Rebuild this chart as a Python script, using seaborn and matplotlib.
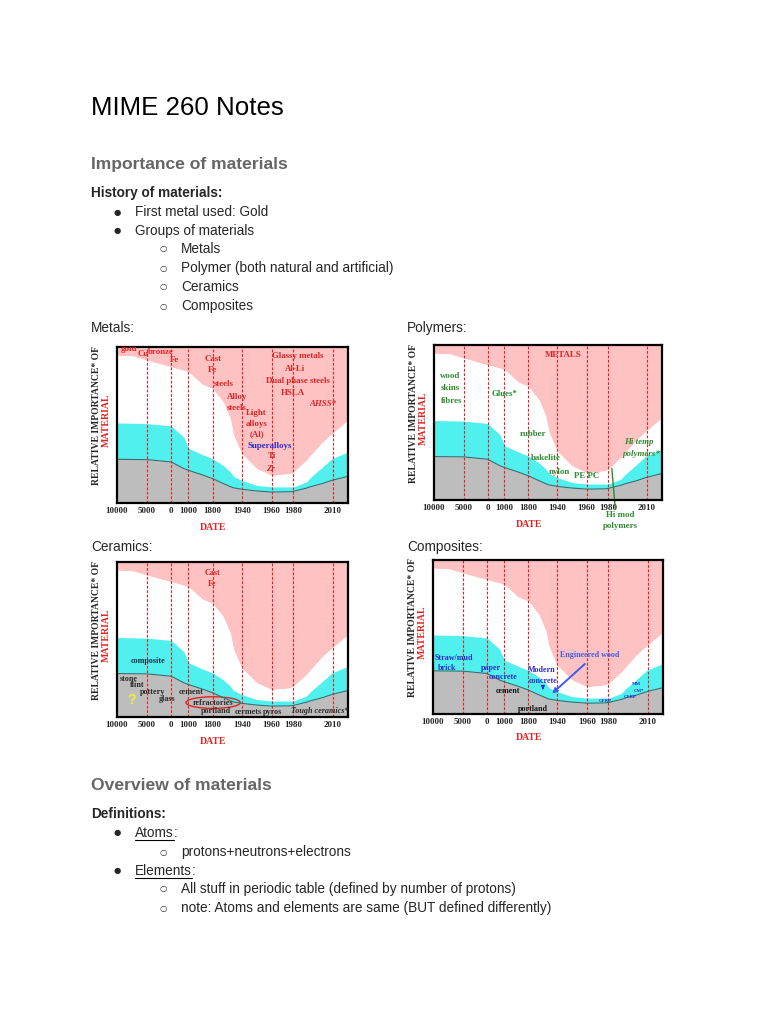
import matplotlib
matplotlib.use('Agg')
import matplotlib.pyplot as plt
import seaborn as sns
import pandas as pd
from matplotlib.patches import Ellipse

sns.set_style('white')
plt.rcParams['font.family'] = ['Liberation Sans', 'DejaVu Sans']

# Eje temporal esquemático (posición relativa dentro del gráfico)
fechas = ['10000', '5000', '0', '1000', '1800', '1940', '1960', '1980', '2010']
fechas_pos = [0.0, 0.13, 0.235, 0.309, 0.414, 0.54, 0.669, 0.763, 0.933]

# Bordes entre bandas (importancia relativa, 0 = abajo, 1 = arriba)
x_borde = [0.0, 0.07, 0.13, 0.235, 0.29, 0.31, 0.37, 0.414, 0.46, 0.49, 0.505,
           0.54, 0.605, 0.67, 0.75, 0.765, 0.82, 0.835, 0.89, 0.93, 1.0]
ceramicos_top = [0.28, 0.279, 0.278, 0.263, 0.22, 0.209, 0.18, 0.156, 0.125, 0.105, 0.097,
                 0.088, 0.077, 0.07, 0.072, 0.075, 0.095, 0.103, 0.125, 0.145, 0.171]
compuestos_top = [0.513, 0.511, 0.509, 0.494, 0.42, 0.35, 0.31, 0.284, 0.24, 0.2, 0.17,
                  0.145, 0.113, 0.103, 0.103, 0.103, 0.135, 0.16, 0.231, 0.284, 0.327]
polimeros_top = [0.947, 0.942, 0.915, 0.872, 0.85, 0.84, 0.76, 0.733, 0.647, 0.541, 0.434,
                 0.316, 0.22, 0.177, 0.188, 0.2, 0.274, 0.3, 0.391, 0.444, 0.53]

bandas = pd.DataFrame({'x': x_borde, 'ceramicos': ceramicos_top,
                       'compuestos': compuestos_top, 'polimeros': polimeros_top})

ROJO = '#e02424'
AZUL = '#2a2ad0'
VERDE = '#2e8b2e'
GRIS_TXT = '#2b2b2b'

# Etiquetas de cada gráfico: (texto, x, y, color, estilo)
etiquetas_metales = [
    ('gold', 0.05, 0.985, ROJO, 'normal'), ('Cu', 0.115, 0.955, ROJO, 'normal'),
    ('bronze', 0.19, 0.966, ROJO, 'normal'), ('Fe', 0.249, 0.915, ROJO, 'normal'),
    ('Cast', 0.414, 0.925, ROJO, 'normal'), ('Fe', 0.414, 0.855, ROJO, 'normal'),
    ('steels', 0.46, 0.765, ROJO, 'normal'), ('Alloy', 0.518, 0.68, ROJO, 'normal'),
    ('steels', 0.518, 0.611, ROJO, 'normal'), ('Light', 0.604, 0.579, ROJO, 'normal'),
    ('alloys', 0.604, 0.504, ROJO, 'normal'), ('(Al)', 0.604, 0.438, ROJO, 'normal'),
    ('Superalloys', 0.662, 0.365, AZUL, 'normal'), ('Ti', 0.669, 0.301, ROJO, 'normal'),
    ('Zr', 0.665, 0.22, ROJO, 'italic'), ('Glassy metals', 0.784, 0.942, ROJO, 'normal'),
    ('Al-Li', 0.77, 0.861, ROJO, 'normal'), ('Dual phase steels', 0.784, 0.78, ROJO, 'normal'),
    ('HSLA', 0.76, 0.707, ROJO, 'normal'), ('AHSS*', 0.892, 0.637, ROJO, 'italic'),
]
etiquetas_polimeros = [
    ('METALS', 0.567, 0.935, ROJO, 'normal'), ('wood', 0.073, 0.802, VERDE, 'normal'),
    ('skins', 0.073, 0.72, VERDE, 'normal'), ('fibres', 0.076, 0.64, VERDE, 'normal'),
    ('Glues*', 0.311, 0.684, VERDE, 'normal'), ('rubber', 0.435, 0.426, VERDE, 'normal'),
    ('bakelite', 0.49, 0.269, VERDE, 'normal'), ('nylon', 0.55, 0.183, VERDE, 'normal'),
    ('PE PC', 0.67, 0.157, VERDE, 'normal'), ('Hi temp', 0.897, 0.372, VERDE, 'italic'),
    ('polymers*', 0.912, 0.3, VERDE, 'italic'), ('Hi mod', 0.817, -0.097, VERDE, 'normal'),
    ('polymers', 0.817, -0.166, VERDE, 'normal'),
]
etiquetas_ceramicos = [
    ('Cast', 0.413, 0.929, ROJO, 'normal'), ('Fe', 0.413, 0.858, ROJO, 'normal'),
    ('composite', 0.134, 0.363, '#1b2f4a', 'normal'), ('stone', 0.05, 0.248, GRIS_TXT, 'normal'),
    ('flint', 0.088, 0.205, GRIS_TXT, 'normal'), ('pottery', 0.152, 0.162, GRIS_TXT, 'normal'),
    ('glass', 0.216, 0.114, GRIS_TXT, 'normal'), ('cement', 0.322, 0.162, GRIS_TXT, 'normal'),
    ('refractories', 0.416, 0.093, GRIS_TXT, 'normal'), ('portland', 0.43, 0.041, GRIS_TXT, 'normal'),
    ('cermets', 0.567, 0.032, GRIS_TXT, 'normal'), ('pyros', 0.675, 0.032, GRIS_TXT, 'normal'),
    ('Tough ceramics*', 0.877, 0.041, GRIS_TXT, 'italic'),
]
etiquetas_compuestos = [
    ('Straw/mud', 0.092, 0.363, AZUL, 'normal'), ('brick', 0.063, 0.298, AZUL, 'normal'),
    ('paper', 0.251, 0.298, AZUL, 'normal'), ('concrete', 0.305, 0.238, AZUL, 'normal'),
    ('Modern', 0.472, 0.287, AZUL, 'normal'), ('concrete', 0.477, 0.216, AZUL, 'normal'),
    ('Engineered wood', 0.683, 0.384, '#3a5cf0', 'normal'), ('cement', 0.324, 0.151, '#111111', 'normal'),
    ('portland', 0.436, 0.035, '#111111', 'normal'),
]
etiquetas_compuestos_chicas = [
    ('GFRP', 0.749, 0.086), ('CFRP', 0.858, 0.112), ('MM', 0.884, 0.194), ('CM*', 0.894, 0.151),
]

W, H = 768, 1024
fig = plt.figure(figsize=(W / 100, H / 100), dpi=100)
fig.patch.set_facecolor('white')


def caja(x0, y0, x1, y1):
    return fig.add_axes([x0 / W, 1 - y1 / H, (x1 - x0) / W, (y1 - y0) / H])


def dibujar_grafico(ax, etiquetas, tam=6.4):
    ax.fill_between(bandas['x'], bandas['polimeros'], 1, color='#ffc2c2', lw=0)
    ax.fill_between(bandas['x'], bandas['compuestos'], bandas['polimeros'], color='white', lw=0)
    ax.fill_between(bandas['x'], bandas['ceramicos'], bandas['compuestos'], color='#4ff0ee', lw=0)
    ax.fill_between(bandas['x'], 0, bandas['ceramicos'], color='#bdbdbd', lw=0)
    sns.lineplot(data=bandas, x='x', y='ceramicos', ax=ax, color='#3f6b6b', lw=0.8)
    for p in fechas_pos[1:]:
        ax.axvline(p, color=ROJO, lw=0.8, ls=(0, (2.5, 1.5)))
    ax.set_xlim(0, 1)
    ax.set_ylim(0, 1)
    ax.set_xticks(fechas_pos, fechas)
    ax.set_yticks([])
    ax.set_xlabel('')
    ax.set_ylabel('')
    ax.tick_params(axis='x', length=0, pad=3)
    for t in ax.get_xticklabels():
        t.set_fontfamily('Liberation Serif')
        t.set_fontweight('bold')
        t.set_fontsize(6.5)
    for s in ax.spines.values():
        s.set_visible(True)
        s.set_color('black')
        s.set_linewidth(1.6)
    ax.text(-0.09, 0.56, 'RELATIVE IMPORTANCE* OF', transform=ax.transAxes, rotation=90,
            ha='center', va='center', fontsize=6.9, fontweight='bold', family='Liberation Serif')
    ax.text(-0.046, 0.53, 'MATERIAL', transform=ax.transAxes, rotation=90, color=ROJO,
            ha='center', va='center', fontsize=7.1, fontweight='bold', family='Liberation Serif')
    ax.text(0.416, -0.155, 'DATE', transform=ax.transAxes, color=ROJO, ha='center', va='center',
            fontsize=7, fontweight='bold', family='Liberation Serif')
    for txt, x, y, col, est in etiquetas:
        ax.text(x, y, txt, transform=ax.transAxes, color=col, style=est, ha='center', va='center',
                fontsize=tam, fontweight='bold', family='Liberation Serif', clip_on=(y > 0))


# Metales
ax1 = caja(117, 347, 348, 503)
dibujar_grafico(ax1, etiquetas_metales)

# Polímeros
ax2 = caja(434, 345, 662, 500)
dibujar_grafico(ax2, etiquetas_polimeros)
ax2.plot([0.78, 0.795], [0.204, -0.054], color=VERDE, lw=1, transform=ax2.transAxes, clip_on=False)

# Cerámicos
ax3 = caja(117, 562, 348, 717)
dibujar_grafico(ax3, etiquetas_ceramicos, tam=5.9)
ax3.add_patch(Ellipse((0.416, 0.093), 0.235, 0.075, transform=ax3.transAxes,
                      fill=False, ec=ROJO, lw=1))
ax3.text(0.062, 0.108, '?', transform=ax3.transAxes, color='#f2f230', ha='center', va='center',
         fontsize=10, fontweight='bold', family='Liberation Sans')

# Compuestos
ax4 = caja(433, 560, 663, 714)
dibujar_grafico(ax4, etiquetas_compuestos, tam=5.8)
for txt, x, y in etiquetas_compuestos_chicas:
    ax4.text(x, y, txt, transform=ax4.transAxes, color=AZUL, ha='center', va='center',
             fontsize=3.5, fontweight='bold', family='Liberation Serif')
ax4.annotate('', xy=(0.509, 0.121), xytext=(0.669, 0.337), xycoords='axes fraction',
             arrowprops=dict(arrowstyle='-|>', color='#3a5cf0', lw=1.4, mutation_scale=7))
ax4.annotate('', xy=(0.478, 0.14), xytext=(0.478, 0.185), xycoords='axes fraction',
             arrowprops=dict(arrowstyle='-|>', color=AZUL, lw=0.9, mutation_scale=5))


# Texto de la página
def texto(x, y, s, **kw):
    return fig.text(x / W, 1 - y / H, s, va='center', ha='left', **kw)


CUERPO = 9.85
SECCION = 12.6
texto(91, 108, 'MIME 260 Notes', fontsize=18.6, color='black')
texto(91, 165, 'Importance of materials', fontsize=SECCION, color='#666666', fontweight='bold')
texto(91, 193, 'History of materials:', fontsize=CUERPO, fontweight='bold')
lineas = [
    (1, 212, 'First metal used: Gold'), (1, 231, 'Groups of materials'),
    (2, 249, 'Metals'), (2, 268, 'Polymer (both natural and artificial)'),
    (2, 287, 'Ceramics'), (2, 306, 'Composites'),
]
for nivel, y, s in lineas:
    if nivel == 1:
        texto(114, y, '\u25cf', fontsize=6, family=['DejaVu Sans'])
        texto(135, y, s, fontsize=CUERPO)
    else:
        texto(160, y, '\u25cb', fontsize=6, family=['DejaVu Sans'])
        texto(181, y, s, fontsize=CUERPO)

texto(91, 328, 'Metals:', fontsize=CUERPO)
texto(407, 328, 'Polymers:', fontsize=CUERPO)
texto(91, 547, 'Ceramics:', fontsize=CUERPO)
texto(407, 547, 'Composites:', fontsize=CUERPO)

texto(91, 786, 'Overview of materials', fontsize=SECCION, color='#666666', fontweight='bold')
texto(91, 814, 'Definitions:', fontsize=CUERPO, fontweight='bold')

renderer = fig.canvas.get_renderer()
for y, palabra in [(833, 'Atoms'), (871, 'Elements')]:
    texto(114, y, '\u25cf', fontsize=6, family=['DejaVu Sans'])
    t = texto(135, y, palabra, fontsize=CUERPO)
    bb = t.get_window_extent(renderer)
    texto(135 + bb.width, y, ':', fontsize=CUERPO)
    fig.add_artist(plt.Line2D([135 / W, (135 + bb.width) / W], [1 - (y + 6.5) / H] * 2,
                              color='black', lw=0.8))

for y, s in [(852, 'protons+neutrons+electrons'),
             (889, 'All stuff in periodic table (defined by number of protons)'),
             (908, 'note: Atoms and elements are same (BUT defined differently)')]:
    texto(160, y, '\u25cb', fontsize=6, family=['DejaVu Sans'])
    texto(181, y, s, fontsize=CUERPO)

fig.savefig('out.png', dpi=100, facecolor='white')
